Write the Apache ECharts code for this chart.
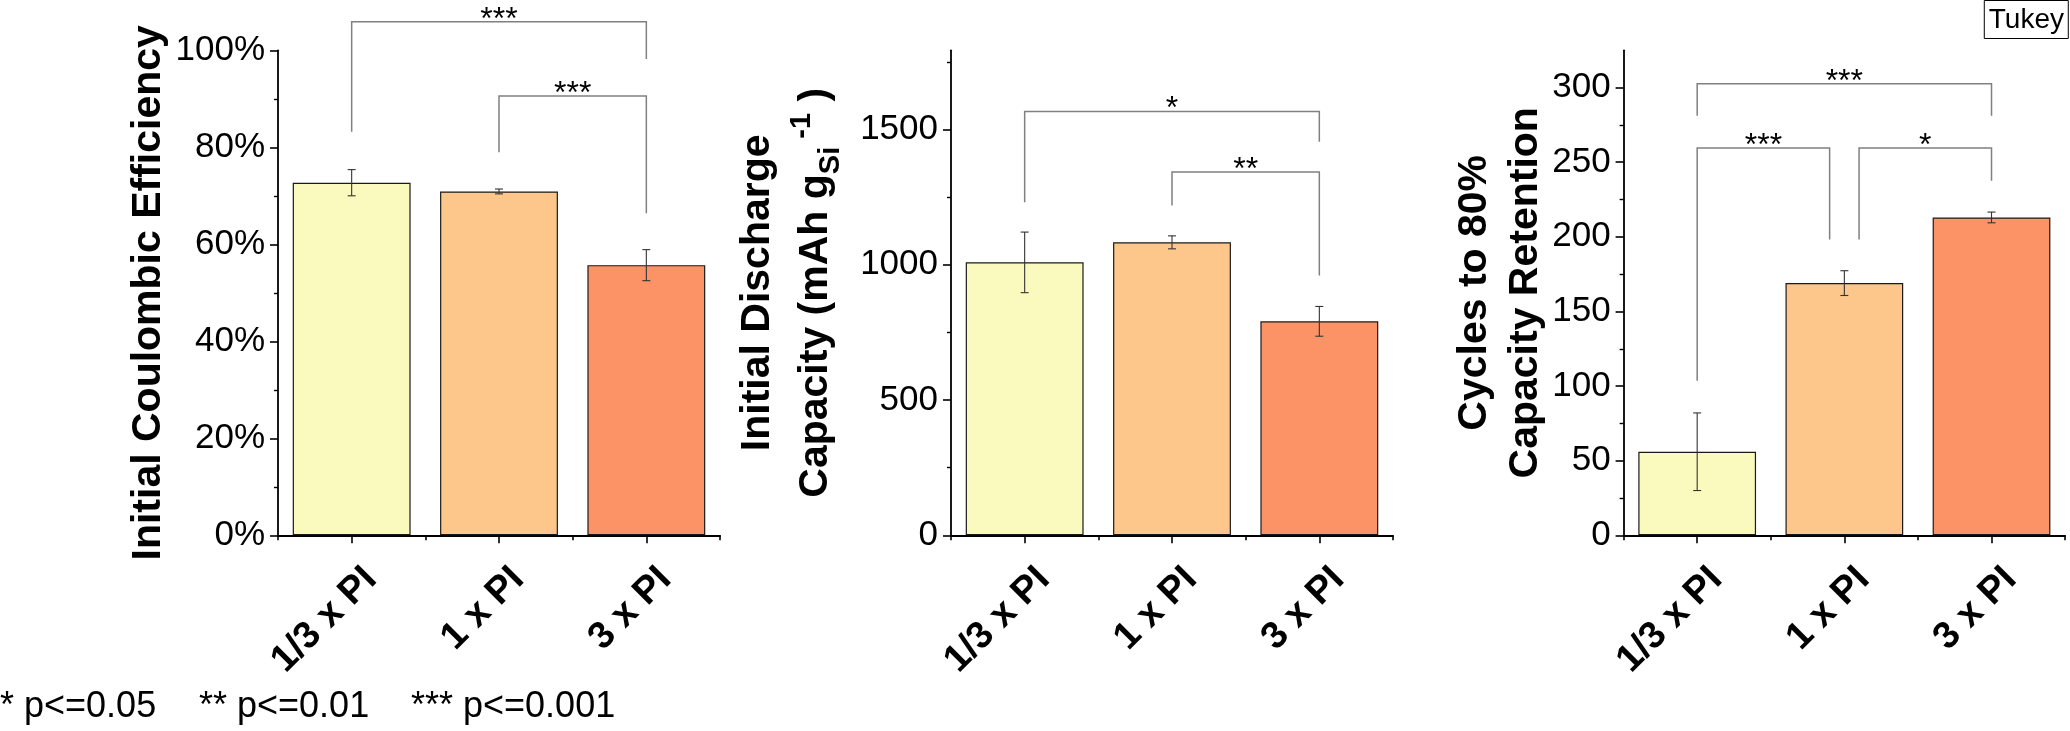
<!DOCTYPE html>
<html>
<head>
<meta charset="utf-8">
<script src="https://cdn.jsdelivr.net/npm/echarts@6/dist/echarts.min.js"></script>
<style>
html,body{margin:0;padding:0;background:#fff;}
#chart{width:2070px;height:731px;}
</style>
</head>
<body>
<div id="chart"></div>
<script>
// ---------- data ----------
const categories = ['1/3 x PI', '1 x PI', '3 x PI'];

const iceValues = [72.7, 70.9, 55.7];
const iceErrors = [2.7, 0.5, 3.2];
const capValues = [1009, 1083, 791];
const capErrors = [112, 24, 55];
const cycValues = [56, 169, 213];
const cycErrors = [26, 8.3, 3.6];

const iceTicks = [0, 20, 40, 60, 80, 100];
const capTicks = [0, 500, 1000, 1500];
const cycTicks = [0, 50, 100, 150, 200, 250, 300];

// [fromCategory, toCategory, bracketLevel, leftLegEnd, rightLegEnd]
const iceBrackets = [[0, 2, 105.9, 83.2, 98.2], [1, 2, 90.6, 79.0, 66.4]];
const iceStars = ['***', '***'];
const capBrackets = [[0, 2, 1567, 1231, 1455], [1, 2, 1343, 1219, 960]];
const capStars = ['*', '**'];
const cycBrackets = [[0, 2, 302.6, 281.2, 281.2], [0, 1, 259.5, 103.5, 198.2], [1, 2, 259.5, 198.2, 237.6]];
const cycStars = ['***', '***', '*'];

const significanceNotes = ['* p<=0.05', '** p<=0.01', '*** p<=0.001'];
const testName = 'Tukey';

// ---------- styling ----------
const FONT = '"Liberation Sans", Arial, Helvetica, sans-serif';
const barColors = ['#FAFABE', '#FDC78B', '#FC9366'];

const grids = [
  { left: 278, top: 50.3, width: 442, height: 485 },
  { left: 951, top: 50.3, width: 442, height: 485 },
  { left: 1623.6, top: 50.3, width: 441.5, height: 485 }
];

function xAxesFor(gi) {
  return [
    {
      type: 'category', gridIndex: gi, data: categories,
      axisLine: { show: true, lineStyle: { color: '#000', width: 1.8 } },
      axisTick: { show: true, alignWithLabel: true, interval: 0, length: 8, lineStyle: { color: '#000', width: 1.6 } },
      axisLabel: {
        interval: 0, rotate: 45, margin: 8, verticalAlign: 'top', padding: [16, 8, 0, 0],
        fontFamily: FONT, fontWeight: 'bold', fontSize: 38, color: '#000'
      },
      splitLine: { show: false }
    },
    {
      type: 'category', gridIndex: gi, data: categories, position: 'bottom',
      axisLine: { show: false },
      axisTick: { show: true, interval: 0, length: 5, lineStyle: { color: '#000', width: 1.6 } },
      axisLabel: { show: false },
      splitLine: { show: false }
    }
  ];
}

function yAxisFor(gi, max, interval, ticks, name, nameGap, fmt, rich) {
  return {
    type: 'value', gridIndex: gi, min: 0, max: max, interval: interval,
    name: name, nameLocation: 'middle', nameGap: nameGap,
    nameTextStyle: Object.assign({ fontFamily: FONT, fontWeight: 'bold', fontSize: 41, color: '#000' }, rich ? { rich: rich } : {}),
    axisLine: { show: true, lineStyle: { color: '#000', width: 1.8 } },
    axisTick: { show: true, length: 8, customValues: ticks, lineStyle: { color: '#000', width: 1.6 } },
    minorTick: { show: true, splitNumber: 2, length: 4, lineStyle: { color: '#000', width: 1.4 } },
    axisLabel: { customValues: ticks, formatter: fmt, fontFamily: FONT, fontSize: 35, color: '#000', margin: 13 },
    splitLine: { show: false }
  };
}

function barSeries(gi, values) {
  return {
    type: 'bar', xAxisIndex: gi * 2, yAxisIndex: gi,
    barCategoryGap: '20%',
    data: values.map((v, j) => ({ value: v, itemStyle: { color: barColors[j] } })),
    itemStyle: { borderColor: '#1a1a1a', borderWidth: 1.2 },
    silent: true, z: 2
  };
}

function errorSeries(gi, values, errors) {
  return {
    type: 'custom', xAxisIndex: gi * 2, yAxisIndex: gi, z: 3, silent: true,
    encode: { x: 0, y: 1 },
    data: values.map((v, j) => [j, v, errors[j]]),
    renderItem: function (params, api) {
      const x = api.value(0), v = api.value(1), e = api.value(2);
      const top = api.coord([x, v + e]);
      const bot = api.coord([x, v - e]);
      const hw = 4;
      const st = { stroke: '#333', lineWidth: 1.1 };
      return {
        type: 'group', children: [
          { type: 'line', shape: { x1: top[0], y1: top[1], x2: bot[0], y2: bot[1] }, style: st },
          { type: 'line', shape: { x1: top[0] - hw, y1: top[1], x2: top[0] + hw, y2: top[1] }, style: st },
          { type: 'line', shape: { x1: bot[0] - hw, y1: bot[1], x2: bot[0] + hw, y2: bot[1] }, style: st }
        ]
      };
    }
  };
}

function bracketSeries(gi, brackets, stars) {
  const NUDGE = 0.1; // fraction of band width when two brackets share a leg
  return {
    type: 'custom', xAxisIndex: gi * 2, yAxisIndex: gi, z: 4, silent: true, clip: false,
    encode: { x: [0, 1], y: [2, 3, 4] },
    data: brackets.map(b => b.slice()),
    renderItem: function (params, api) {
      const idx = params.dataIndex;
      const from = api.value(0), to = api.value(1);
      const lvl = api.value(2), le = api.value(3), re = api.value(4);
      const band = api.size([1, 0])[0];
      const shareRight = brackets.some((o, k) => k !== idx && o[0] === to && o[2] === lvl);
      const shareLeft = brackets.some((o, k) => k !== idx && o[1] === from && o[2] === lvl);
      const pTopL = api.coord([from, lvl]);
      const pTopR = api.coord([to, lvl]);
      const pL = api.coord([from, le]);
      const pR = api.coord([to, re]);
      const xl = pTopL[0] + (shareLeft ? NUDGE * band : 0);
      const xr = pTopR[0] - (shareRight ? NUDGE * band : 0);
      return {
        type: 'group', children: [
          {
            type: 'polyline',
            shape: { points: [[xl, pL[1]], [xl, pTopL[1]], [xr, pTopR[1]], [xr, pR[1]]] },
            style: { stroke: '#808080', lineWidth: 1.5, fill: 'none' }
          },
          {
            type: 'text',
            style: {
              text: stars[idx], x: (xl + xr) / 2, y: pTopL[1] - 2,
              align: 'center', verticalAlign: 'middle',
              fontFamily: FONT, fontSize: 32, fill: '#000'
            }
          }
        ]
      };
    }
  };
}

const capRich = {
  b: { fontFamily: FONT, fontWeight: 'bold', fontSize: 41, lineHeight: 58, color: '#000' },
  sub: { fontFamily: FONT, fontWeight: 'bold', fontSize: 29, lineHeight: 30, verticalAlign: 'bottom', color: '#000' },
  sup: { fontFamily: FONT, fontWeight: 'bold', fontSize: 29, lineHeight: 30, verticalAlign: 'top', color: '#000' }
};
const cycRich = {
  b: { fontFamily: FONT, fontWeight: 'bold', fontSize: 41, lineHeight: 51, color: '#000' }
};

const plainNumber = v => String(v);

const option = {
  backgroundColor: '#fff',
  animation: false,
  title: {
    text: testName, right: 1, top: 0,
    borderColor: '#000', borderWidth: 1, padding: [6, 5, 5, 5],
    textStyle: { fontFamily: FONT, fontWeight: 'normal', fontSize: 28, color: '#000' }
  },
  grid: grids,
  xAxis: [].concat(xAxesFor(0), xAxesFor(1), xAxesFor(2)),
  yAxis: [
    yAxisFor(0, 100, 20, iceTicks, 'Initial Coulombic Efficiency', 109, '{value}%'),
    yAxisFor(1, 1793, 500, capTicks, '{b|Initial Discharge}\n{b|Capacity (mAh g}{sub|Si}{sup| -1}{b| )}', 106, plainNumber, capRich),
    yAxisFor(2, 325, 50, cycTicks, '{b|Cycles to 80%}\n{b|Capacity Retention}', 72, plainNumber, cycRich)
  ],
  series: [
    barSeries(0, iceValues), errorSeries(0, iceValues, iceErrors), bracketSeries(0, iceBrackets, iceStars),
    barSeries(1, capValues), errorSeries(1, capValues, capErrors), bracketSeries(1, capBrackets, capStars),
    barSeries(2, cycValues), errorSeries(2, cycValues, cycErrors), bracketSeries(2, cycBrackets, cycStars)
  ],
  graphic: significanceNotes.map((t, j) => ({
    type: 'text', x: [0, 199, 411][j], y: 707, silent: true,
    style: { text: t, fontFamily: FONT, fontSize: 36, fill: '#000', verticalAlign: 'middle', align: 'left' }
  }))
};

const chart = echarts.init(document.getElementById('chart'), null, { renderer: 'canvas' });
chart.setOption(option);
</script>
</body>
</html>
